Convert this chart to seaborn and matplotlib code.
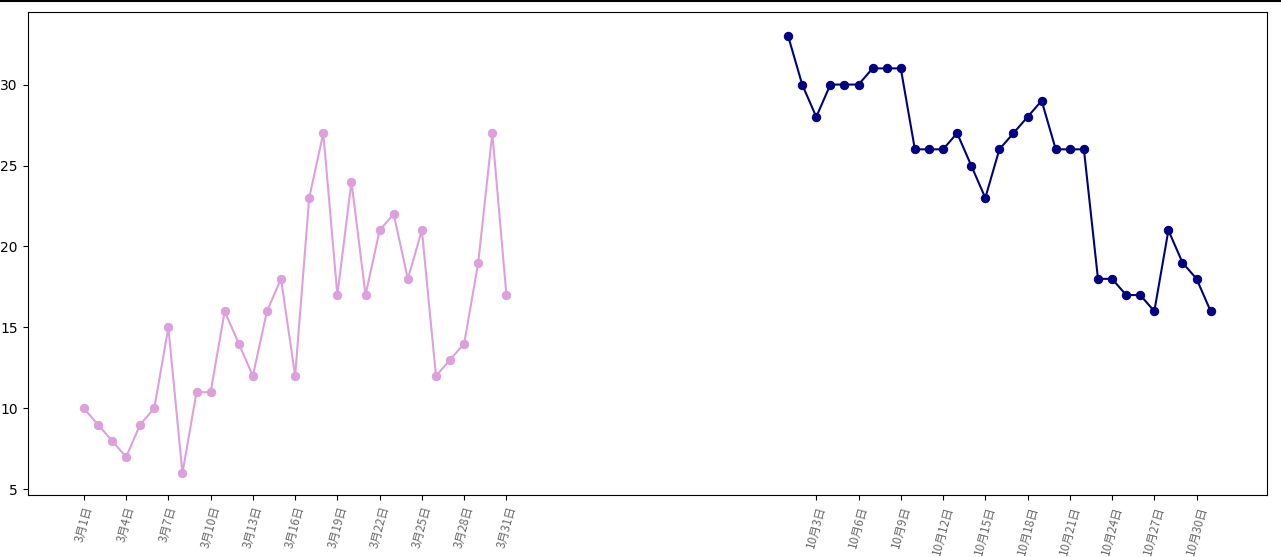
import matplotlib
matplotlib.use("Agg")
import matplotlib.pyplot as plt
from matplotlib.lines import Line2D
import seaborn as sns
import pandas as pd

# 每日数值
march_days = list(range(1, 32))
march_values = [10, 9, 8, 7, 9, 10, 15, 6, 11, 11, 16, 14, 12, 16, 18, 12,
                23, 27, 17, 24, 17, 21, 22, 18, 21, 12, 13, 14, 19, 27, 17]
october_days = list(range(1, 32))
october_values = [33, 30, 28, 30, 30, 30, 31, 31, 31, 26, 26, 26, 27, 25, 23, 26,
                  27, 28, 29, 26, 26, 26, 18, 18, 17, 17, 16, 21, 19, 18, 16]
tick_march = [1, 4, 7, 10, 13, 16, 19, 22, 25, 28, 31]
tick_october = [3, 6, 9, 12, 15, 18, 21, 24, 27, 30]

# x 位置: 3月 0..30, 空 20 格, 10月 50..80
df_m = pd.DataFrame({"x": [d - 1 for d in march_days], "y": march_values})
df_o = pd.DataFrame({"x": [d + 49 for d in october_days], "y": october_values})

fig, ax = plt.subplots(figsize=(12.81, 5.57), dpi=100)
fig.subplots_adjust(left=27.5 / 1281, right=1267 / 1281,
                    top=1 - 11.7 / 557, bottom=1 - 495 / 557)

sns.lineplot(data=df_m, x="x", y="y", color="plum", marker="o",
             markersize=6, markeredgecolor="plum", linewidth=1.5, ax=ax)
sns.lineplot(data=df_o, x="x", y="y", color="navy", marker="o",
             markersize=6, markeredgecolor="navy", linewidth=1.5, ax=ax)

ticks = [d - 1 for d in tick_march] + [d + 49 for d in tick_october]
labels = [f"3月{d}日" for d in tick_march] + [f"10月{d}日" for d in tick_october]
ax.set_xticks(ticks)
ax.set_xticklabels(labels, rotation=75, color="dimgray", fontsize=8.5,
                   family=["Noto Sans CJK SC", "DejaVu Sans"])
ax.set_xlim(-4, 84)
ax.set_ylim(4.65, 34.5)
ax.set_xlabel("")
ax.set_ylabel("")
ax.set_yticks([5, 10, 15, 20, 25, 30])

fig.add_artist(Line2D([0, 1], [0.999, 0.999], color="black", linewidth=1.5,
                      transform=fig.transFigure))

plt.savefig("out.png", dpi=100)
